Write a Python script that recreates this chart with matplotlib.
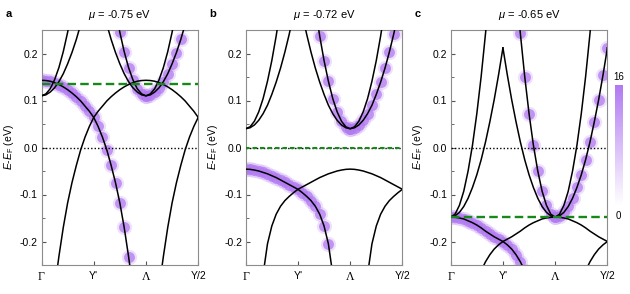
import numpy as np
import matplotlib
matplotlib.use('Agg')
import matplotlib.pyplot as plt
from matplotlib.colors import LinearSegmentedColormap
from matplotlib.ticker import MultipleLocator

plt.rcParams['font.family'] = ['Liberation Sans', 'DejaVu Sans']
plt.rcParams['mathtext.fontset'] = 'custom'
plt.rcParams['mathtext.rm'] = 'Liberation Sans'
plt.rcParams['mathtext.it'] = 'Liberation Sans:italic'
plt.rcParams['mathtext.bf'] = 'Liberation Sans:bold'

# ---------------- data ----------------
# momentum distance from a band centre (Γ at 0, Λ at 2, next at 4), tick units
k_dist = [0.000, 0.083, 0.167, 0.250, 0.333, 0.417, 0.500, 0.583, 0.667,
          0.750, 0.833, 0.917, 1.000, 1.083, 1.167, 1.250, 1.333, 1.417,
          1.500, 1.583, 1.667, 1.750]

k_ticks = [0, 1, 2, 3]
k_tick_labels = ['\u0393', "Y'", '\u039b', 'Y/2']
mu_values = ['-0.75', '-0.72', '-0.65']
panel_letters = ['a', 'b', 'c']
green_levels = [0.135, 0.0, -0.148]

# panel a (mu = -0.75 eV)
low_a = [0.143, 0.1425, 0.141, 0.138, 0.134, 0.129, 0.123, 0.116, 0.108,
         0.099, 0.088, 0.077, 0.064, 0.045, 0.022, -0.005, -0.038, -0.075,
         -0.118, -0.170, -0.232, -0.300]
up1_a = [0.110, 0.114, 0.125, 0.144, 0.170, 0.204, 0.245, 0.294, 0.350]
up2_a = [0.110, 0.112, 0.118, 0.127, 0.140, 0.157, 0.178, 0.202, 0.230,
         0.262, 0.297]

# panel b (mu = -0.72 eV)
low_b = [-0.046, -0.0465, -0.048, -0.050, -0.053, -0.056, -0.060, -0.064,
         -0.069, -0.074, -0.079, -0.084, -0.089, -0.096, -0.104, -0.113,
         -0.125, -0.142, -0.167, -0.205, -0.270, -0.330]
up1_b = [0.040, 0.044, 0.056, 0.076, 0.104, 0.141, 0.185, 0.237, 0.298]
up2_b = [0.040, 0.042, 0.048, 0.058, 0.072, 0.090, 0.113, 0.139, 0.169,
         0.203, 0.241, 0.284]

# panel c (mu = -0.65 eV)
low_c = [-0.148, -0.1485, -0.150, -0.152, -0.156, -0.160, -0.165, -0.171,
         -0.178, -0.184, -0.190, -0.195, -0.200, -0.207, -0.216, -0.228,
         -0.243, -0.262, -0.285]
up1_c = [-0.148, -0.142, -0.123, -0.093, -0.050, 0.005, 0.072, 0.151,
         0.243, 0.347]
up2_c = [-0.148, -0.1455, -0.138, -0.1255, -0.108, -0.085, -0.058, -0.026,
         0.012, 0.055, 0.102, 0.155, 0.212]

# number of weighted points (from the band centre outwards) per branch
dots_a = [21, 7, 10]
dots_b = [20, 8, 11]
dots_c = [18, 9, 13]

weight_range = [0, 16]

# ---------------- figure ----------------
fig = plt.figure(figsize=(6.3, 2.94), dpi=100)
W, H = 630.0, 294.0
lefts = [41.5, 245.7, 450.7]
ax_w = 156.7
top_px, bot_px = 30.0, 265.0

purple = '#b27af2'
green = '#17891a'

panels = [(low_a, up1_a, up2_a, dots_a),
          (low_b, up1_b, up2_b, dots_b),
          (low_c, up1_c, up2_c, dots_c)]

d_all = np.array(k_dist)

for i, (low, up1, up2, ndots) in enumerate(panels):
    ax = fig.add_axes([lefts[i] / W, 1 - bot_px / H, ax_w / W, (bot_px - top_px) / H])
    ax.set_xlim(0, 3)
    ax.set_ylim(-0.25, 0.25)

    # weighted points (drawn below the black bands)
    low_e = np.array(low); up1_e = np.array(up1); up2_e = np.array(up2)
    sets = [(d_all[:ndots[0]], low_e[:ndots[0]]),
            (2 - d_all[:ndots[1]], up1_e[:ndots[1]]),
            (2 + d_all[:ndots[2]], up2_e[:ndots[2]])]
    for xs, ys in sets:
        ax.scatter(xs, ys, s=120, color=purple, alpha=0.22, lw=0, zorder=2)
        ax.scatter(xs, ys, s=62, color=purple, alpha=0.75, lw=0, zorder=2)

    # bands: copies centred at 0, 2 and 4
    for band in (low, up1, up2):
        e = np.array(band)
        dd = d_all[:len(e)]
        ax.plot(dd, e, color='k', lw=1.1, zorder=4)
        ax.plot(np.concatenate([2 - dd[::-1], 2 + dd[1:]]),
                np.concatenate([e[::-1], e[1:]]), color='k', lw=1.1, zorder=4)
        ax.plot(4 - dd, e, color='k', lw=1.1, zorder=4)

    # reference lines
    ax.axhline(0.0, color='k', lw=1.0, ls=(0, (1, 1.5)), zorder=5)
    if i == 1:
        ax.axhline(green_levels[i], color=green, lw=1.5, ls=(0.5, (2.2, 1.4)), zorder=6)
    else:
        ax.axhline(green_levels[i], color=green, lw=1.7, ls=(0, (3.6, 1.8)), zorder=6)

    # axes styling
    for sp in ax.spines.values():
        sp.set_color('#8c8c8c')
        sp.set_linewidth(0.8)
    ax.set_xticks(k_ticks)
    ax.set_xticklabels(k_tick_labels)
    for j, lbl in enumerate(ax.get_xticklabels()):
        if j in (0, 2):
            lbl.set_family('Liberation Serif')
            lbl.set_fontsize(8.5)
        else:
            lbl.set_fontsize(7.5)
    ax.yaxis.set_minor_locator(MultipleLocator(0.05))
    ax.set_yticks([-0.2, -0.1, 0.0, 0.1, 0.2])
    ax.set_yticklabels(['-0.2', '-0.1', '0.0', '0.1', '0.2'], fontsize=7.5)
    ax.tick_params(axis='both', which='major', direction='in', length=3,
                   width=0.8, color='#555555', pad=2.5)
    ax.tick_params(axis='y', which='minor', direction='in', length=2,
                   width=0.6, color='#555555')
    ax.tick_params(axis='x', which='major', pad=4)
    ax.set_ylabel('$E$-$E_\\mathrm{F}$ (eV)', fontsize=7.5, labelpad=2)
    ax.yaxis.set_label_coords(-0.165, 0.5)
    ax.set_title('$\\mu$ = %s eV' % mu_values[i], fontsize=8, pad=9)
    fig.text((lefts[i] - 36) / W, 1 - 14 / H, panel_letters[i],
             fontsize=8, fontweight='bold', va='center', ha='left')

# colour bar
cmap = LinearSegmentedColormap.from_list('w2p', ['#ffffff', purple])
cax = fig.add_axes([615 / W, 1 - 205 / H, 7.5 / W, 120 / H])
grad = np.linspace(weight_range[0], weight_range[1], 256).reshape(-1, 1)
cax.imshow(grad, aspect='auto', cmap=cmap, origin='lower',
           extent=[0, 1, weight_range[0], weight_range[1]])
cax.set_axis_off()
fig.text(618.5 / W, 1 - 77 / H, str(weight_range[1]), fontsize=7, ha='center', va='center')
fig.text(618.5 / W, 1 - 216 / H, str(weight_range[0]), fontsize=7, ha='center', va='center')

fig.savefig('out.png', dpi=100)
